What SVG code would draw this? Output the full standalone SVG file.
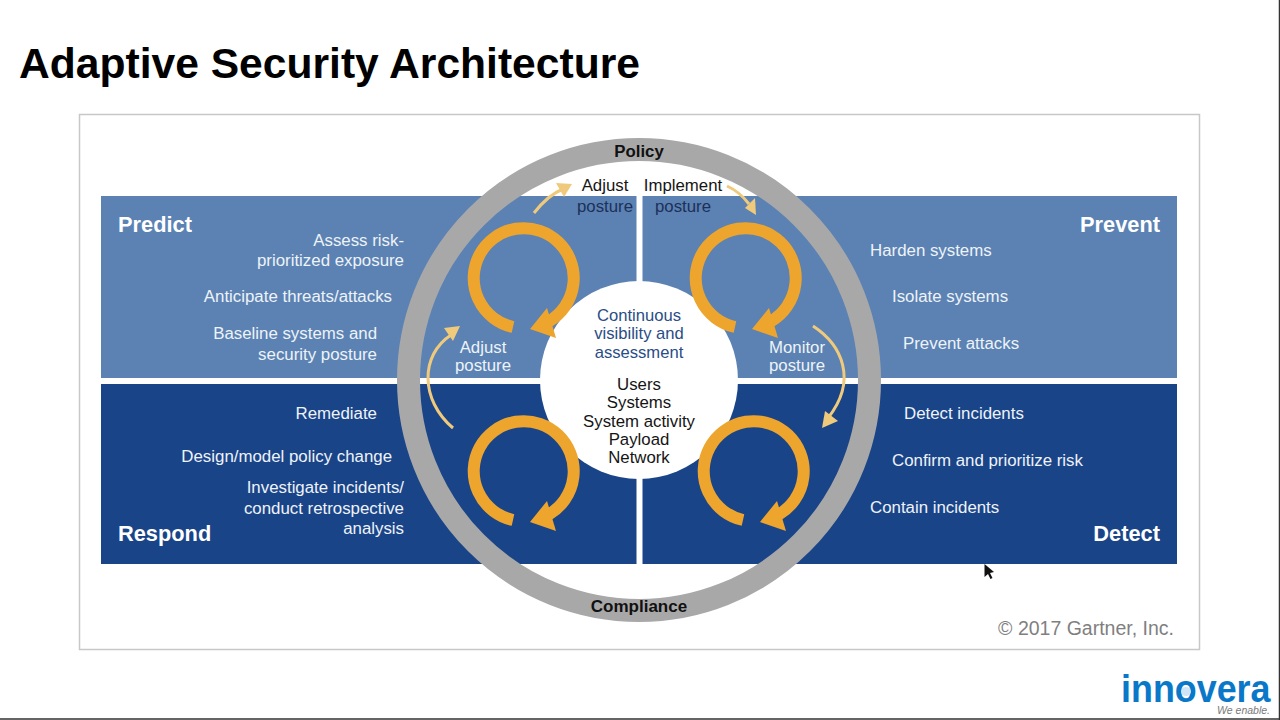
<svg xmlns="http://www.w3.org/2000/svg" xmlns:xlink="http://www.w3.org/1999/xlink" width="1280" height="720" viewBox="0 0 1280 720">
<style>
text{font-family:"Liberation Sans",Arial,sans-serif}
.l{font-size:16.850px;fill:#eef3f8}
.e{text-anchor:end}
.h{font-size:21.800px;font-weight:bold;fill:#fff}
.k{font-size:16.800px;fill:#151515;text-anchor:middle}
.d{fill:#1d3058}
.w{fill:#eef3f8}
.b{font-size:16.600px;fill:#2a4d85;text-anchor:middle}
.r{font-size:16.800px;font-weight:bold;fill:#111;text-anchor:middle}
.thin{fill:none;stroke:#f0ca7c;stroke-width:3}
.head{fill:#f0ca7c}
</style>
<defs>
<g id="cycle">
<path d="M-11 49A50 50 0 1 1 25 43.300" fill="none" stroke="#eea52e" stroke-width="12"/>
<path d="M23 30L6 51L32 60Z" fill="#eea52e"/>
</g>
</defs>
<rect width="1280" height="720" fill="#fff"/>
<path d="M0 719H1280M1279.500 0V720" stroke="#333" stroke-width="1.500" fill="none"/>
<text id="title" x="19" y="78" font-size="42.600" font-weight="bold" fill="#000">Adaptive Security Architecture</text>
<rect id="frame" x="79.500" y="114.500" width="1120" height="535" fill="#fff" stroke="#c8c8c8" stroke-width="1.500"/>
<g id="panels">
<rect x="101" y="196" width="535.500" height="182" fill="#5b82b3"/>
<rect x="642.500" y="196" width="534.500" height="182" fill="#5b82b3"/>
<rect x="101" y="384" width="535.500" height="180" fill="#1a4488"/>
<rect x="642.500" y="384" width="534.500" height="180" fill="#1a4488"/>
</g>
<circle id="ring" cx="639" cy="380" r="230.500" fill="none" stroke="#a8a8a8" stroke-width="23"/>
<circle id="hub" cx="639" cy="380" r="99" fill="#fff"/>
<g id="connectors">
<use href="#cycle" xlink:href="#cycle" x="524" y="278"/>
<use href="#cycle" xlink:href="#cycle" x="746" y="278"/>
<use href="#cycle" xlink:href="#cycle" x="524" y="471"/>
<use href="#cycle" xlink:href="#cycle" x="754" y="471"/>
<path class="thin" d="M534 213Q548 195 563 189"/>
<path class="head" d="M572 184L556 183L564 197Z"/>
<path class="thin" d="M727 186Q740 192 749 204"/>
<path class="head" d="M756 215L745 208L755 198Z"/>
<path class="thin" d="M813 326C842 345 858 380 828 418"/>
<path class="head" d="M822 428L825 411L838 421Z"/>
<path class="thin" d="M453 428C420 400 420 355 451 335"/>
<path class="head" d="M460 326L444 328L453 341Z"/>
</g>
<g id="predict">
<text class="h" x="118" y="232">Predict</text>
<text class="l e" x="404" y="246">Assess risk-</text>
<text class="l e" x="404" y="266">prioritized exposure</text>
<text class="l e" x="392" y="302">Anticipate threats/attacks</text>
<text class="l e" x="377" y="339">Baseline systems and</text>
<text class="l e" x="377" y="360">security posture</text>
</g>
<g id="prevent">
<text class="h e" x="1160" y="232">Prevent</text>
<text class="l" x="870" y="256">Harden systems</text>
<text class="l" x="892" y="302">Isolate systems</text>
<text class="l" x="903" y="349">Prevent attacks</text>
</g>
<g id="respond">
<text class="h" x="118" y="541">Respond</text>
<text class="l e" x="377" y="419">Remediate</text>
<text class="l e" x="392" y="462">Design/model policy change</text>
<text class="l e" x="404" y="493">Investigate incidents/</text>
<text class="l e" x="404" y="514">conduct retrospective</text>
<text class="l e" x="404" y="534">analysis</text>
</g>
<g id="detect">
<text class="h e" x="1160" y="541">Detect</text>
<text class="l" x="904" y="419">Detect incidents</text>
<text class="l" x="892" y="466">Confirm and prioritize risk</text>
<text class="l" x="870" y="513">Contain incidents</text>
</g>
<g id="policy"><text class="r" x="639" y="157">Policy</text></g>
<g id="compliance"><text class="r" x="639" y="612" style="font-size:17px">Compliance</text></g>
<g id="posture-labels">
<text class="k" x="605" y="191">Adjust</text>
<text class="k d" x="605" y="212">posture</text>
<text class="k" x="683" y="191">Implement</text>
<text class="k d" x="683" y="212">posture</text>
<text class="k w" x="483" y="353">Adjust</text>
<text class="k w" x="483" y="371">posture</text>
<text class="k w" x="797" y="353">Monitor</text>
<text class="k w" x="797" y="371">posture</text>
</g>
<g id="hub-text">
<text class="b" x="639" y="321">Continuous</text>
<text class="b" x="639" y="339">visibility and</text>
<text class="b" x="639" y="358">assessment</text>
<text class="k" x="639" y="390">Users</text>
<text class="k" x="639" y="408">Systems</text>
<text class="k" x="639" y="427">System activity</text>
<text class="k" x="639" y="445">Payload</text>
<text class="k" x="639" y="463">Network</text>
</g>
<text id="copyright" x="1174" y="635" text-anchor="end" font-size="19.500" fill="#7f7f7f">© 2017 Gartner, Inc.</text>
<g id="logo">
<text transform="translate(1121 702) scale(.92 1)" font-size="39" font-weight="bold" fill="#0a78c8">innovera</text>
<ellipse cx="1186" cy="691.500" rx="5" ry="4.500" fill="#cfe6f6"/>
<text x="1270" y="714" text-anchor="end" font-size="10.500" font-style="italic" fill="#7a7a7a">We enable.</text>
</g>
<path id="cursor" d="M984.500 564V577L988 574L990.500 579L992.500 578L990 573L994 572Z" fill="#111"/>
</svg>
